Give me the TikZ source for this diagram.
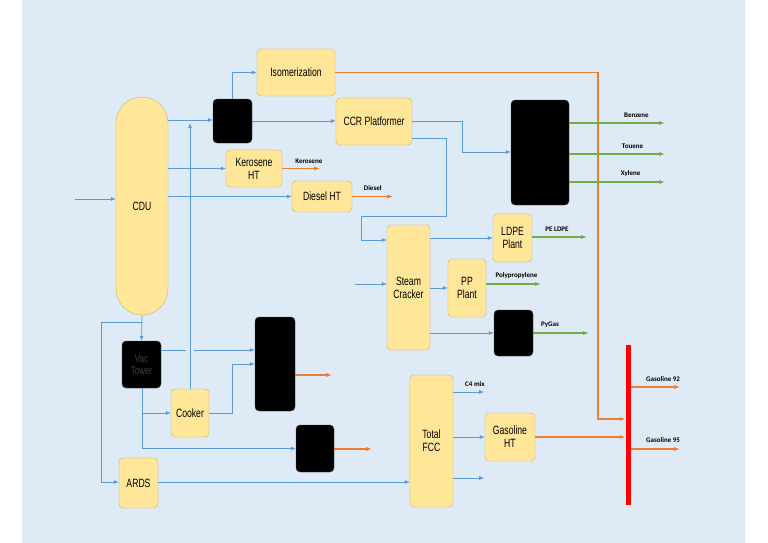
\documentclass[tikz,border=0pt]{standalone}
\usepackage{fontspec}
\setmainfont{Liberation Sans}
\newfontfamily\condf[FakeStretch=0.72]{Liberation Sans}
\newfontfamily\lblf{Carlito}
\usetikzlibrary{arrows.meta}
\definecolor{bgc}{HTML}{DEEAF6}
\definecolor{boxf}{HTML}{FFE699}
\definecolor{boxd}{HTML}{C9B26B}
\definecolor{bl}{HTML}{5B9BD5}
\definecolor{org}{HTML}{ED7D31}
\definecolor{grn}{HTML}{70AD47}
\begin{document}
\begin{tikzpicture}[x=1pt,y=-1pt,
  box/.style={draw=boxd,fill=boxf,rounded corners=4pt,inner sep=1pt,font=\condf\fontsize{12}{13}\selectfont,align=center},
  blk/.style={draw=black!70,fill=black,rounded corners=4pt,inner sep=0pt},
  ab/.style={draw=bl,line width=0.7pt,-{Latex[length=5pt,width=4pt]}},
  lb/.style={draw=bl,line width=0.7pt},
  ao/.style={draw=org,line width=1.1pt,-{Latex[length=6pt,width=4pt]}},
  ag/.style={draw=grn,line width=1.1pt,-{Latex[length=6pt,width=4pt]}},
  lab/.style={font=\lblf\bfseries\fontsize{7}{8}\selectfont,inner sep=0pt}]
\useasboundingbox (0,0) rectangle (768,543);
\fill[white] (0,0) rectangle (768,543);
\fill[bgc] (22,0) rectangle (745,543);
% nodes
\node[box,rounded corners=26pt,minimum width=52pt,minimum height=218pt] (cdu) at (142,206) {CDU};
\node[blk,minimum width=39pt,minimum height=44pt] (ba) at (232.5,121) {};
\node[box,minimum width=78pt,minimum height=47pt] (iso) at (296,72.5) {Isomerization};
\node[box,minimum width=76pt,minimum height=47pt] (ccr) at (374,121.5) {CCR Platformer};
\node[box,minimum width=56pt,minimum height=37pt] (ker) at (254,168.5) {Kerosene\\HT};
\node[box,minimum width=60pt,minimum height=31pt] (dsl) at (322,196.5) {Diesel HT};
\node[blk,minimum width=58pt,minimum height=105pt] (btx) at (540,152.5) {};
\node[box,minimum width=39pt,minimum height=48pt] (ldpe) at (512.5,238) {LDPE\\Plant};
\node[box,minimum width=43pt,minimum height=125pt] (sc) at (408.5,287.5) {Steam\\Cracker};
\node[box,minimum width=38pt,minimum height=58pt] (pp) at (467,288) {PP\\Plant};
\node[blk,minimum width=39pt,minimum height=46pt] (pyg) at (513.5,333) {};
\node[blk,minimum width=39pt,minimum height=47pt,font=\condf\fontsize{11}{12}\selectfont,text=black!75,align=center] (vac) at (141.5,364.5) {Vac\\Tower};
\node[box,minimum width=38pt,minimum height=48pt] (cok) at (190,413) {Cooker};
\node[blk,minimum width=40pt,minimum height=94pt] (bbm) at (275,364) {};
\node[blk,minimum width=38pt,minimum height=47pt] (bsm) at (315,448.5) {};
\node[box,minimum width=39pt,minimum height=50pt] (ards) at (138.5,483) {ARDS};
\node[box,minimum width=43pt,minimum height=132pt] (fcc) at (431.5,441) {Total\\FCC};
\node[box,minimum width=50pt,minimum height=48pt] (ght) at (510,437) {Gasoline\\HT};
\node[fill=red,minimum width=5pt,minimum height=160pt,inner sep=0pt] (red) at (628.5,425) {};
% free ends
\coordinate (feed) at (75,199);
\coordinate (scfeed) at (355,284);
% CDU links
\draw[ab] (feed) -- (cdu.west |- feed);
\draw[ab] (cdu.east |- 0,120) -- (ba.west |- 0,120);
\draw[ab] (cok.north) -- (190,123);
\draw[ab] (ba.north) |- (iso.west);
\draw[ab] (ba.east) -- (ccr.west |- ba.east);
\draw[ab] (cdu.east |- ker.west) -- (ker.west);
\draw[ab] (cdu.east |- dsl.west) -- (dsl.west);
\draw[ao] (ker.east) -- ++(38,0) node[lab,pos=0.7,above=4pt] {Kerosene};
\draw[ao] (dsl.east) -- ++(41,0) node[lab,pos=0.5,above=5pt] {Diesel};
\draw[ao] (iso.east) -| (598,419) -- (red.west |- 0,419);
\draw[ab] (ccr.east) -| (462,152) -- (btx.west |- 0,152);
\draw[ab] (ccr.east |- 0,138) -| (446,216) -| (361,240) -- (sc.west |- 0,240);
\draw[ab] (scfeed) -- (sc.west |- scfeed);
\draw[ab] (sc.east |- ldpe.west) -- (ldpe.west);
\draw[ab] (sc.east |- pp.west) -- (pp.west);
\draw[ab] (sc.east |- pyg.west) -- (pyg.west);
\draw[ag] (ldpe.east |- 0,237) -- ++(55,0) node[lab,pos=0.45,above=5pt] {PE LDPE};
\draw[ag] (pp.east |- 0,284) -- ++(55,0) node[lab,pos=0.55,above=5pt] {Polypropylene};
\draw[ag] (pyg.east |- 0,333) -- ++(56,0) node[lab,pos=0.3,above=5pt] {PyGas};
\draw[ag] (btx.east |- 0,123) -- ++(96,0) node[lab,pos=0.7,above=5pt] {Benzene};
\draw[ag] (btx.east |- 0,154) -- ++(96,0) node[lab,pos=0.66,above=5pt] {Touene};
\draw[ag] (btx.east |- 0,182) -- ++(96,0) node[lab,pos=0.64,above=5pt] {Xylene};
% bottom section
\draw[ab] (cdu.south) -- (vac.north);
\draw[ab] (143,322) -| (101,482) -- (ards.west |- 0,482);
\draw[lb] (vac.east |- 0,350) -- (186,350);
\draw[ab] (194,350) -- (bbm.west |- 0,350);
\draw[ab] (cok.east) -| (232,364) -- (bbm.west |- 0,364);
\draw[ab] (142,388) |- (cok.west);
\draw[ab] (142,410) |- (bsm.west);
\draw[ao] (bbm.east |- 0,375) -- ++(37,0);
\draw[ao] (bsm.east |- 0,449) -- ++(38,0);
\draw[ab] (ards.east |- 0,482) -- (fcc.west |- 0,482);
\draw[ab] (fcc.east |- 0,392) -- ++(31,0) node[lab,pos=0.7,above=5pt] {C4 mix};
\draw[ab] (fcc.east |- ght.west) -- (ght.west);
\draw[ab] (fcc.east |- 0,478) -- ++(31,0);
\draw[ao] (ght.east) -- (red.west |- ght.east);
\draw[ao] (red.east |- 0,387) -- ++(49,0) node[lab,pos=0.65,above=5pt] {Gasoline 92};
\draw[ao] (red.east |- 0,449) -- ++(49,0) node[lab,pos=0.65,above=6pt] {Gasoline 95};
\end{tikzpicture}
\end{document}
